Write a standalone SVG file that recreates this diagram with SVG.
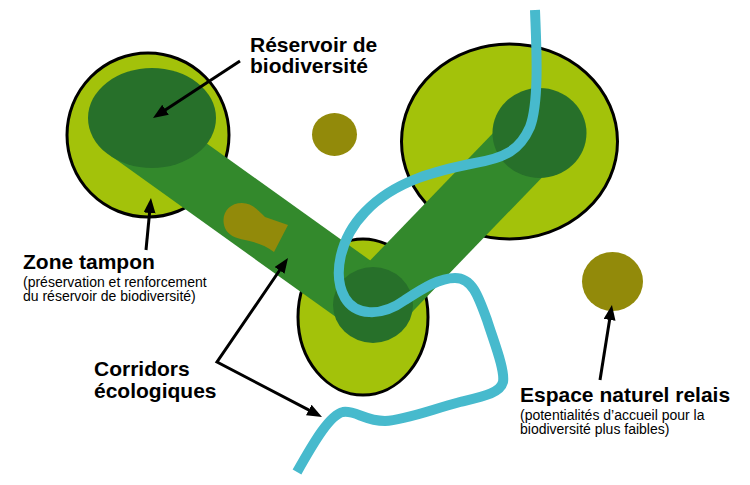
<svg xmlns="http://www.w3.org/2000/svg" width="750" height="485" viewBox="0 0 750 485">
<defs>
<style>
.buffer{fill:#a3c20a;stroke:#000;stroke-width:3}
.core{fill:#27702a}
.corr{fill:none;stroke:#33892c;stroke-width:66;stroke-linecap:butt}
.olive{fill:#928a0a}
.river{fill:none;stroke:#47bacd;stroke-width:10;stroke-linecap:butt;stroke-linejoin:round}
.arrow{fill:none;stroke:#000;stroke-width:3}
.t{font-family:"Liberation Sans",Arial,sans-serif;fill:#000}
.big{font-size:21px;font-weight:bold}
.small{font-size:14px}
</style>
<marker id="ah" markerWidth="16" markerHeight="12" refX="9" refY="6" orient="auto-start-reverse" markerUnits="userSpaceOnUse">
<path d="M0,0 L15,6 L0,12 z" fill="#000"/>
</marker>
</defs>
<rect width="750" height="485" fill="#fff"/>
<g id="zones-tampon">
<ellipse class="buffer" cx="148" cy="135" rx="81" ry="82"/>
<ellipse class="buffer" cx="509.5" cy="141.5" rx="108" ry="97.5"/>
<ellipse class="buffer" cx="363" cy="317" rx="65" ry="78"/>
</g>
<g id="corridors">
<line class="corr" x1="130" y1="129" x2="373" y2="303"/>
<line class="corr" x1="373" y1="305" x2="539" y2="133"/>
<path class="olive" d="M225,228 C220,215 228,203 242,203 C252,203 258,210 265,217 L288,225 L274,252 C265,245 255,242 245,240 C235,238 228,235 225,228 Z"/>
</g>
<g id="reservoirs">
<ellipse class="core" cx="152" cy="118" rx="64" ry="50"/>
<ellipse class="core" cx="539.5" cy="133" rx="47" ry="45"/>
<ellipse class="core" cx="373" cy="305" rx="40" ry="38"/>
</g>
<g id="riviere">
<path class="river" d="M535,10 C536,40 540,100 530,127 C520,150 505,158 475,163 C440,170 395,180 365,212 C340,238 332,275 345,298 C355,315 380,318 405,300 C425,287 440,278 455,278 C472,278 478,295 487,320 C495,345 505,370 503,382 C500,393 485,396 460,402 C430,410 405,420 385,421 C365,421 355,410 343,412 C330,415 315,440 297,472"/>
</g>
<g id="espaces-relais">
<ellipse class="olive" cx="334.5" cy="134.5" rx="22.5" ry="21.5"/>
<ellipse class="olive" cx="612.5" cy="281.5" rx="30.5" ry="29.5"/>
</g>
<g id="connectors">
<path class="arrow" d="M240,61 L158,114.7" marker-end="url(#ah)"/>
<path class="arrow" d="M146,250 L150.4,204" marker-end="url(#ah)"/>
<path class="arrow" d="M284.6,263 L217,362 L316.7,414.2" marker-start="url(#ah)" marker-end="url(#ah)"/>
<path class="arrow" d="M600,380 L611,311" marker-end="url(#ah)"/>
</g>
<g id="label-reservoir">
<text class="t big" x="250" y="52">Réservoir de</text>
<text class="t big" x="250" y="73">biodiversité</text>
</g>
<g id="label-zone-tampon">
<text class="t big" x="23" y="269">Zone tampon</text>
<text class="t small" x="23" y="286.5">(préservation et renforcement</text>
<text class="t small" x="23" y="301">du réservoir de biodiversité)</text>
</g>
<g id="label-corridors">
<text class="t big" x="94" y="376">Corridors</text>
<text class="t big" x="94" y="398">écologiques</text>
</g>
<g id="label-espace-relais">
<text class="t big" x="520" y="402">Espace naturel relais</text>
<text class="t small" x="520" y="419.5">(potentialités d’accueil pour la</text>
<text class="t small" x="520" y="434">biodiversité plus faibles)</text>
</g>
</svg>
